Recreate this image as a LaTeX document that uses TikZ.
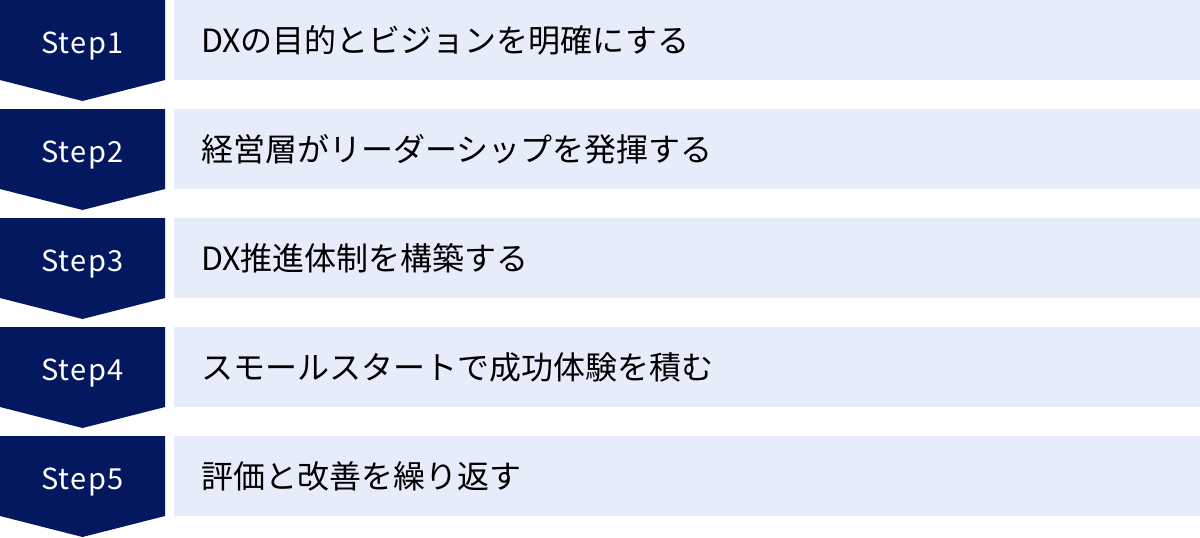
\documentclass[tikz,border=0pt]{standalone}
\usepackage{fontspec}
\setmainfont{Noto Sans CJK JP}
\usepackage{tikz}
\usetikzlibrary{calc}

\definecolor{stepnavy}{HTML}{04185F}
\definecolor{rowblue}{HTML}{E6ECF9}

\begin{document}
\begin{tikzpicture}[x=1pt,y=-1pt]

\def\rowPitch{109}
\def\boxHeight{80}

\useasboundingbox (0,0) rectangle (1200,538);

\foreach \n/\txt in {1/DXの目的とビジョンを明確にする,
                     2/経営層がリーダーシップを発揮する,
                     3/DX推進体制を構築する,
                     4/スモールスタートで成功体験を積む,
                     5/評価と改善を繰り返す}{
  \pgfmathsetmacro{\top}{(\n-1)*\rowPitch}
  \coordinate (s\n tl) at (0,\top);
  \coordinate (s\n tr) at (165,\top);
  \coordinate (s\n br) at (165,\top+\boxHeight);
  \coordinate (s\n tip) at (82.5,\top+\boxHeight+21);
  \coordinate (s\n bl) at (0,\top+\boxHeight);
  \fill[stepnavy] (s\n tl) -- (s\n tr) -- (s\n br) -- (s\n tip) -- (s\n bl) -- cycle;
  \node[text=white,anchor=base,inner sep=0pt,
        font=\fontsize{29}{34}\selectfont\addfontfeature{LetterSpace=5}] (step\n) at (82.5,\top+53) {Step\n};

  \fill[rowblue] (174,\top) rectangle (1200,\top+\boxHeight);
  \node[anchor=base west,inner sep=0pt,font=\fontsize{32}{38}\selectfont] (task\n) at (201,\top+52) {\txt};
}

\end{tikzpicture}
\end{document}
